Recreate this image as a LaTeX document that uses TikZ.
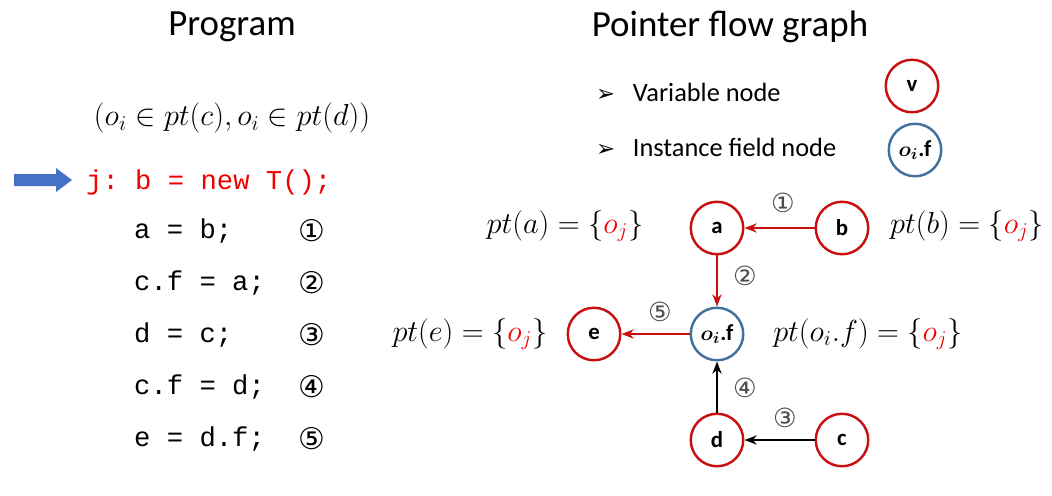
\documentclass[tikz,border=0pt]{standalone}
\usepackage{amsmath,bm}
\usepackage{fontspec}
\setmainfont{Carlito}
\setmonofont{Liberation Mono}
\newfontfamily\dv{DejaVu Sans}
\usetikzlibrary{arrows.meta}
\definecolor{rd}{RGB}{200,16,16}
\definecolor{brd}{RGB}{240,0,0}
\definecolor{bl}{RGB}{65,113,156}
\definecolor{arr}{RGB}{68,114,196}
\begin{document}
\begin{tikzpicture}[x=0.02cm,y=-0.02cm,
 vnode/.style={circle,draw=rd,line width=1.4pt,minimum size=1.05cm,inner sep=0pt,font=\fontsize{13}{13}\selectfont\bfseries},
 fnode/.style={vnode,draw=bl},
 code/.style={anchor=west,font=\fontsize{15.5}{16}\ttfamily},
 num/.style={font=\fontsize{17}{17}\dv},
 gnum/.style={font=\fontsize{15}{15}\dv,text=black!70},
 lab/.style={font=\fontsize{17.5}{18}\selectfont},
 txt/.style={anchor=west,font=\fontsize{15}{16}\selectfont},
 redge/.style={draw=rd,line width=1pt,-{Stealth[length=7pt]}},
 kedge/.style={draw=black,line width=1pt,-{Stealth[length=7pt]}}]
\useasboundingbox (0,0) rectangle (1052,495);
\node[font=\fontsize{21}{22}\selectfont] (t1) at (232,27) {Program};
\node[font=\fontsize{21}{22}\selectfont] (t2) at (730,27) {Pointer flow graph};
\node[lab] (cond) at (232,118) {$(o_i\in pt(c), o_i\in pt(d))$};
\fill[arr] (14,174) -- (56,174) -- (56,168) -- (72,180) -- (56,192) -- (56,186) -- (14,186) -- cycle;
\node[code,text=brd] (l0) at (80,182) {j: b = new T();};
\node[code] (l1) at (128,231) {a = b;};
\node[code] (l2) at (128,283) {c.f = a;};
\node[code] (l3) at (128,335) {d = c;};
\node[code] (l4) at (128,387) {c.f = d;};
\node[code] (l5) at (128,439) {e = d.f;};
\node[num] at (312,231) {①};
\node[num] at (312,283) {②};
\node[num] at (312,335) {③};
\node[num] at (312,387) {④};
\node[num] at (312,439) {⑤};
\node[txt] (b1) at (590,92) {{\dv\fontsize{13}{13}\selectfont ➢}\hspace{10pt}Variable node};
\node[txt] (b2) at (590,147) {{\dv\fontsize{13}{13}\selectfont ➢}\hspace{10pt}Instance field node};
\node[vnode] (lv) at (912,86) {v};
\node[fnode] (lf) at (915,150) {$\bm{o_i}$\textbf{.f}};
\node[vnode] (a) at (717,228) {a};
\node[vnode] (b) at (842,228) {b};
\node[fnode] (f) at (717,334) {$\bm{o_i}$\textbf{.f}};
\node[vnode] (e) at (594,334) {e};
\node[vnode] (d) at (717,440) {d};
\node[vnode] (c) at (842,440) {c};
\draw[redge] (b) -- (a);
\draw[redge] (a) -- (f);
\draw[redge] (f) -- (e);
\draw[kedge] (d) -- (f);
\draw[kedge] (c) -- (d);
\node[gnum] at (783,203) {①};
\node[gnum] at (745,276) {②};
\node[gnum] at (660,312) {⑤};
\node[gnum] at (745,388) {④};
\node[gnum] at (785,418) {③};
\node[lab] (pa) at (565,226) {$pt(a)=\{\textcolor{brd}{o_j}\}$};
\node[lab] (pb) at (967,226) {$pt(b)=\{\textcolor{brd}{o_j}\}$};
\node[lab] (pe) at (470,334) {$pt(e)=\{\textcolor{brd}{o_j}\}$};
\node[lab] (pf) at (868,334) {$pt(o_i.f)=\{\textcolor{brd}{o_j}\}$};
\end{tikzpicture}
\end{document}
